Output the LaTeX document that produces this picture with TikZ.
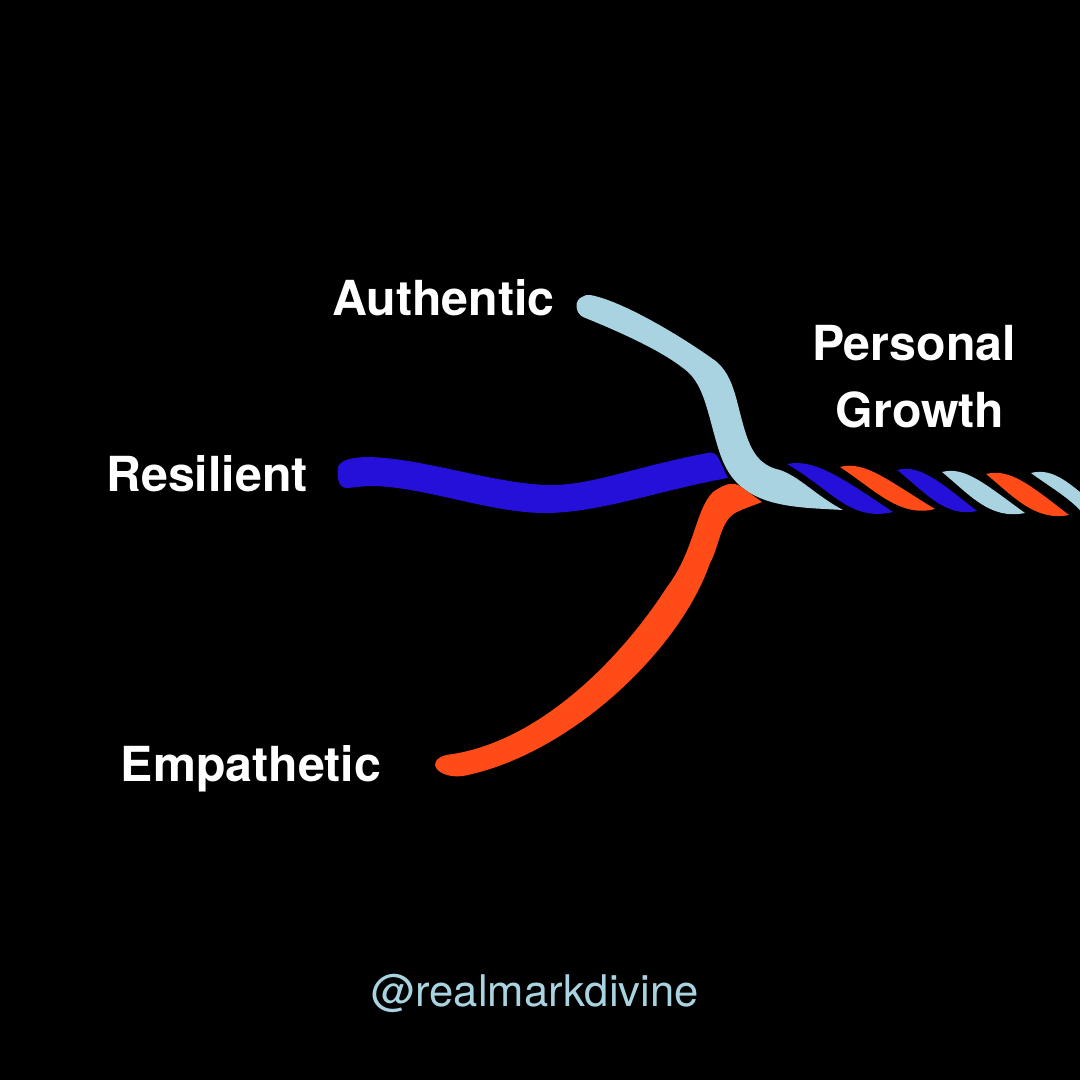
\documentclass[tikz,border=0pt]{standalone}
\usepackage{fontspec}
\setmainfont{TeX Gyre Heros}
\definecolor{skystrand}{HTML}{A9D3E0}
\definecolor{bluestrand}{HTML}{2410D8}
\definecolor{redstrand}{HTML}{FF4B17}
\tikzset{
	label/.style={anchor=base,inner sep=0pt,text=white,font=\fontsize{48.3}{48.3}\selectfont\bfseries},
	handle/.style={anchor=base,inner sep=0pt,text=skystrand,font=\fontsize{43.6}{43.6}\selectfont},
}
\begin{document}
\begin{tikzpicture}[x=1pt,y=-1pt]
	\useasboundingbox (0,0) rectangle (1080,1080);
	\fill[black] (0,0) rectangle (1080,1080);
	% the three strands
	\fill[bluestrand] (338,467) .. controls (341,460) and (350,458) .. (365,457)
		.. controls (420,457) and (490,483) .. (547,485)
		.. controls (590,486) and (630,468) .. (707,453)
		.. controls (714,451) and (717,455) .. (719,459) -- (728,478)
		.. controls (660,490) and (600,513) .. (545,513)
		.. controls (490,513) and (425,487) .. (373,486)
		.. controls (360,486) and (352,488) .. (347,488)
		.. controls (340,488) and (336,480) .. (338,467) -- cycle;
	\fill[skystrand] (590,295) .. controls (620,300) and (680,335) .. (717,362)
		.. controls (728,372) and (733,385) .. (738,405)
		.. controls (747,440) and (752,464) .. (780,470)
		.. controls (800,477) and (815,495) .. (843,510)
		.. controls (810,508) and (775,508) .. (750,493)
		.. controls (725,478) and (720,455) .. (713,430)
		.. controls (705,400) and (700,380) .. (683,368)
		.. controls (660,350) and (620,332) .. (583,317)
		.. controls (575,313) and (574,300) .. (582,297)
		.. controls (584,295) and (587,295) .. (590,295) -- cycle;
	\fill[redstrand] (762,502) -- (740,486)
		.. controls (733,482) and (726,483) .. (713,492)
		.. controls (695,510) and (695,550) .. (667,587)
		.. controls (620,660) and (540,740) .. (453,754)
		.. controls (440,755) and (435,760) .. (435,765)
		.. controls (436,772) and (448,778) .. (463,776)
		.. controls (570,755) and (680,650) .. (710,563)
		.. controls (720,545) and (720,520) .. (737,512)
		.. controls (745,508) and (752,506) .. (762,502) -- cycle;
	% the twisted rope
	\fill[bluestrand] (787,464) .. controls (815,458) and (845,480) .. (893,512)
		.. controls (850,522) and (832,490) .. (787,464) -- cycle;
	\fill[redstrand] (840,467) .. controls (865,460) and (890,482) .. (935,509)
		.. controls (900,518) and (875,490) .. (840,467) -- cycle;
	\fill[bluestrand] (897,470) .. controls (920,464) and (940,482) .. (977,511)
		.. controls (945,518) and (925,492) .. (897,470) -- cycle;
	\fill[skystrand] (942,472) .. controls (965,466) and (985,484) .. (1025,513)
		.. controls (990,520) and (970,495) .. (942,472) -- cycle;
	\fill[redstrand] (986,474) .. controls (1010,468) and (1030,485) .. (1069,515)
		.. controls (1035,522) and (1012,495) .. (986,474) -- cycle;
	\fill[skystrand] (1031,473) .. controls (1050,468) and (1065,480) .. (1080,492) -- (1080,510)
		.. controls (1065,495) and (1050,487) .. (1031,473) -- cycle;
	% labels
	\node[label] (authentic) at (443.5,315) {Authentic};
	\node[label] (resilient) at (207,491) {Resilient};
	\node[label] (empathetic) at (251,781) {Empathetic};
	\node[label] (personal) at (914,360) {Personal};
	\node[label] (growth) at (920,427) {Growth};
	\node[handle] (handle) at (535,1006) {@realmarkdivine};
\end{tikzpicture}
\end{document}
